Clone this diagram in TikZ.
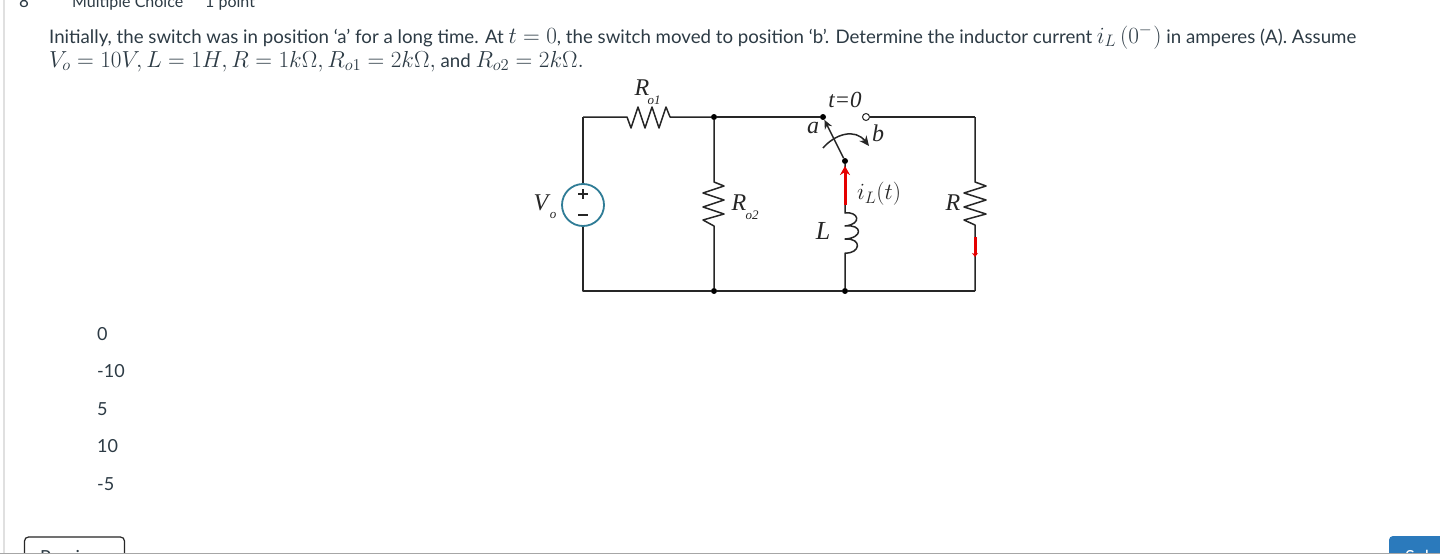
\documentclass[tikz,border=0pt]{standalone}
\usepackage{fix-cm}
\usepackage[no-math]{fontspec}
\setmainfont{Lato}
\newfontfamily\circfont{Liberation Serif}
\DeclareMathSizes{18.67}{23.2}{16.6}{12}
\usetikzlibrary{arrows.meta,calc}
\definecolor{ink}{HTML}{2D3B45}
\definecolor{wirec}{HTML}{262626}
\definecolor{srcblue}{HTML}{2F7C96}
\definecolor{btnblue}{HTML}{2B7ABC}
\tikzset{
  x=1pt,y=-1pt,
  wire/.style={draw=wirec,line width=1.5pt,line join=round},
  redwire/.style={draw=red!90!black,line width=3pt},
  txt/.style={text=ink,anchor=base west,inner sep=0pt,font=\fontsize{18.67}{22}\selectfont},
  opt/.style={text=ink,anchor=base west,inner sep=0pt,font=\fontsize{18}{22}\selectfont},
  lab/.style={text=wirec,inner sep=0pt,font=\circfont\itshape\fontsize{24}{26}\selectfont},
  sublab/.style={text=wirec,inner sep=0pt,font=\circfont\itshape\fontsize{13}{15}\selectfont},
  dot/.style={circle,fill=black,inner sep=0pt,minimum size=6pt},
}
\begin{document}
\begin{tikzpicture}
\useasboundingbox (0,0) rectangle (1440,554);
\fill[white] (0,0) rectangle (1440,554);
% page furniture
\draw[black!12,line width=1.5pt] (4,0) -- (4,554);
\node[opt,font=\fontsize{17}{20}\selectfont] (qn) at (19,7) {8};
\node[opt,font=\fontsize{16}{20}\selectfont] (qt) at (72,7) {Multiple Choice};
\node[opt,font=\fontsize{16}{20}\selectfont] (qp) at (205,7) {1 point};
\node[txt] (l1) at (49,43) {Initially, the switch was in position ‘a’ for a long time. At $t=0$, the switch moved to position ‘b’. Determine the inductor current $i_L\,(0^-\kern1pt)$ in amperes (A). Assume};
\node[txt] (l2) at (49,67) {$V_o=10V, L=1H, R=1k\Omega, R_{o1}=2k\Omega,$ and $R_{o2}=2k\Omega.$};
\node[opt] (o1) at (97,340) {0};
\node[opt] (o2) at (97,377.5) {-10};
\node[opt] (o3) at (97,415) {5};
\node[opt] (o4) at (97,452.5) {10};
\node[opt] (o5) at (97,490) {-5};
% buttons
\draw[wirec,line width=1.2pt,rounded corners=4pt] (24.5,560) -- (24.5,537) -- (124.5,537) -- (124.5,560);
\node[opt] (prev) at (40,563) {Previous};
\fill[btnblue,rounded corners=4pt] (1389,536) rectangle (1460,570);
\node[opt,text=white] (sub) at (1405,563) {Submit};
\draw[black!35,line width=1.2pt] (0,553.5) -- (1440,553.5);
% circuit
\coordinate (tl) at (583,117);
\coordinate (bl) at (583,291);
\coordinate (tr) at (975,117);
\coordinate (br) at (975,291);
\node[dot] (jt) at (714,117) {};
\node[dot] (jb) at (714,291) {};
\node[dot] (jl) at (845,291) {};
\node[dot,minimum size=6pt] (sa) at (823,117) {};
\node[circle,draw=wirec,line width=1pt,fill=white,inner sep=0pt,minimum size=7pt] (sb) at (866,117) {};
\node[dot] (piv) at (845,161) {};
\node[circle,draw=srcblue,line width=1.8pt,minimum size=42pt,inner sep=0pt] (src) at (583,205) {};
\draw[wire] (578,194) -- (588,194);
\draw[wire] (583,189) -- (583,199);
\draw[wire] (578,215) -- (588,215);
% Ro1
\draw[wire] (tl) -- (src.north);
\draw[wire] (tl) -- (627,117) -- (631,128) -- (638,107) -- (645,128) -- (652,107) -- (659,128) -- (666,107) -- (670,117) -- (jt);
% source to bottom
\draw[wire] (src.south) -- (bl) -- (jb);
% Ro2
\draw[wire] (jt) -- (714,182) -- (724,186) -- (703,193) -- (724,200) -- (703,207) -- (724,214) -- (703,220) -- (714,226) -- (jb);
\draw[wire] (jb) -- (jl) -- (br);
% top to switch
\draw[wire] (jt) -- (sa);
\draw[wire] (sb) -- (tr);
% R
\draw[wire] (tr) -- (975,182) -- (986,186) -- (964,193) -- (986,200) -- (964,207) -- (986,214) -- (964,220) -- (975,225) -- (br);
\draw[redwire,-{Stealth[length=4pt,width=6pt]}] (975,237) -- (975,257);
% switch blade and arc
\draw[wire,-{Stealth[length=9pt,width=8pt]}] (piv) -- (sa);
\coordinate (arcs) at (823,148);
\coordinate (arce) at (869,146);
\draw[wire,-{Stealth[length=10pt,width=9pt]}] (arcs) .. controls (835,134) and (855,128) .. (arce);
% inductor
\draw[wire] (piv) -- (845,213) .. controls (858,211) and (863,224) .. (845,226) .. controls (863,224) and (863,238) .. (845,239) .. controls (863,238) and (860,254) .. (845,253) -- (jl);
\draw[redwire,-{Stealth[length=9pt,width=10pt]}] (845,205) -- (845,166);
% labels
\node[lab] (lr1) at (642,88) {R};
\node[sublab] (lo1) at (654,100) {o1};
\node[lab] (lr2) at (739,203) {R};
\node[sublab] (lo2) at (752,215) {o2};
\node[lab] (lv) at (541,203) {V};
\node[sublab] (lvo) at (553,215) {o};
\node[lab,font=\circfont\itshape\fontsize{23}{26}\selectfont] (lt) at (845,100) {t=0};
\node[lab,font=\circfont\itshape\fontsize{24}{26}\selectfont] (la) at (813,128) {a};
\node[lab,font=\circfont\itshape\fontsize{24}{26}\selectfont] (lb) at (878,133) {b};
\node[lab] (li) at (879,194) {\fontsize{18.67}{24}\selectfont$i_L(t)$};
\node[lab,font=\circfont\itshape\fontsize{26}{26}\selectfont] (ll) at (823,231) {L};
\node[lab] (lrr) at (953,203) {R};
\end{tikzpicture}
\end{document}
